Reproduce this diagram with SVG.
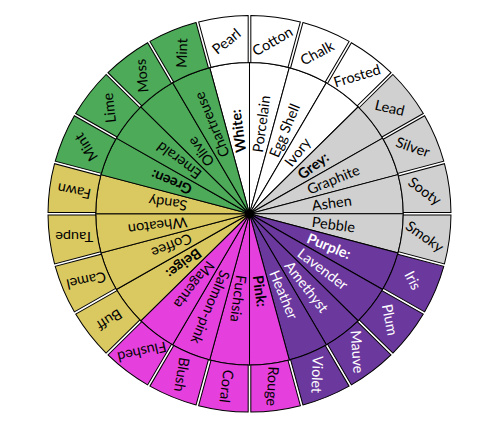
<svg xmlns="http://www.w3.org/2000/svg" width="500" height="429" viewBox="0 0 500 429">
<style>
.t{font-family:Lato,"Liberation Sans",sans-serif;font-size:14.3px;fill:#000}
.o{text-anchor:middle}
.b{font-weight:bold}
.w{fill:#fff}
.s{stroke:#000;stroke-width:1}
.wh{fill:#ffffff}.gy{fill:#d0d0d0}.pu{fill:#6b389e}.pk{fill:#e540dd}.bg{fill:#dac860}.gn{fill:#4caa58}
</style>
<defs>
<path id="iw" d="M0,0 L0,-151.3 A151.3 151.3 0 0 1 39.159,-146.145 Z"/>
<path id="ow" d="M1.3,-151.294 L1.3,-198.296 A198.3 198.3 0 0 1 50.067,-191.876 L37.902,-146.476 A151.3 151.3 0 0 0 1.3,-151.294 Z"/>
</defs>
<rect width="500" height="429" fill="#fff"/>
<g transform="translate(249.5,213.8) scale(1.016,1)">
<g id="inner">
<g id="i-white"><use href="#iw" class="wh s" transform="rotate(345)"/><text class="t b" transform="rotate(262.5)" x="62" dy=".35em">White:</text></g>
<g id="i-porcelain"><use href="#iw" class="wh s" transform="rotate(0)"/><text class="t" transform="rotate(-82.5)" x="62" dy=".35em">Porcelain</text></g>
<g id="i-eggshell"><use href="#iw" class="wh s" transform="rotate(15)"/><text class="t" transform="rotate(-67.5)" x="62" dy=".35em">Egg Shell</text></g>
<g id="i-ivory"><use href="#iw" class="wh s" transform="rotate(30)"/><text class="t" transform="rotate(-52.5)" x="62" dy=".35em">Ivory</text></g>
<g id="i-grey"><use href="#iw" class="gy s" transform="rotate(45)"/><text class="t b" transform="rotate(-37.5)" x="62" dy=".35em">Grey:</text></g>
<g id="i-graphite"><use href="#iw" class="gy s" transform="rotate(60)"/><text class="t" transform="rotate(-22.5)" x="62" dy=".35em">Graphite</text></g>
<g id="i-ashen"><use href="#iw" class="gy s" transform="rotate(75)"/><text class="t" transform="rotate(-7.5)" x="62" dy=".35em">Ashen</text></g>
<g id="i-pebble"><use href="#iw" class="gy s" transform="rotate(90)"/><text class="t" transform="rotate(7.5)" x="62" dy=".35em">Pebble</text></g>
<g id="i-purple"><use href="#iw" class="pu s" transform="rotate(105)"/><text class="t b w" transform="rotate(22.5)" x="62" dy=".35em">Purple:</text></g>
<g id="i-lavender"><use href="#iw" class="pu s" transform="rotate(120)"/><text class="t w" transform="rotate(37.5)" x="62" dy=".35em">Lavender</text></g>
<g id="i-amethyst"><use href="#iw" class="pu s" transform="rotate(135)"/><text class="t w" transform="rotate(52.5)" x="62" dy=".35em">Amethyst</text></g>
<g id="i-heather"><use href="#iw" class="pu s" transform="rotate(150)"/><text class="t w" transform="rotate(67.5)" x="62" dy=".35em">Heather</text></g>
<g id="i-pink"><use href="#iw" class="pk s" transform="rotate(165)"/><text class="t b" transform="rotate(82.5)" x="62" dy=".35em">Pink:</text></g>
<g id="i-fuchsia"><use href="#iw" class="pk s" transform="rotate(180)"/><text class="t" transform="rotate(97.5)" x="62" dy=".35em">Fuchsia</text></g>
<g id="i-salmon"><use href="#iw" class="pk s" transform="rotate(195)"/><text class="t" transform="rotate(112.5)" x="62" dy=".35em">Salmon-pink</text></g>
<g id="i-magenta"><use href="#iw" class="pk s" transform="rotate(210)"/><text class="t" transform="rotate(127.5)" x="62" dy=".35em">Magenta</text></g>
<g id="i-beige"><use href="#iw" class="bg s" transform="rotate(225)"/><text class="t b" transform="rotate(142.5)" x="62" dy=".35em">Beige:</text></g>
<g id="i-coffee"><use href="#iw" class="bg s" transform="rotate(240)"/><text class="t" transform="rotate(157.5)" x="62" dy=".35em">Coffee</text></g>
<g id="i-wheaton"><use href="#iw" class="bg s" transform="rotate(255)"/><text class="t" transform="rotate(172.5)" x="62" dy=".35em">Wheaton</text></g>
<g id="i-sandy"><use href="#iw" class="bg s" transform="rotate(270)"/><text class="t" transform="rotate(187.5)" x="62" dy=".35em">Sandy</text></g>
<g id="i-green"><use href="#iw" class="gn s" transform="rotate(285)"/><text class="t b" transform="rotate(202.5)" x="62" dy=".35em">Green:</text></g>
<g id="i-emerald"><use href="#iw" class="gn s" transform="rotate(300)"/><text class="t" transform="rotate(217.5)" x="62" dy=".35em">Emerald</text></g>
<g id="i-olive"><use href="#iw" class="gn s" transform="rotate(315)"/><text class="t" transform="rotate(232.5)" x="62" dy=".35em">Olive</text></g>
<g id="i-chartreuse"><use href="#iw" class="gn s" transform="rotate(330)"/><text class="t" transform="rotate(247.5)" x="62" dy=".35em">Chartreuse</text></g>
</g>
<g id="outer">
<g id="o-pearl"><use href="#ow" class="wh s" transform="rotate(345)"/><text class="t o" transform="rotate(352.5) translate(0,-174) rotate(-31.5)" dy=".35em">Pearl</text></g>
<g id="o-cotton"><use href="#ow" class="wh s" transform="rotate(0)"/><text class="t o" transform="rotate(7.5) translate(0,-174) rotate(-37.5)" dy=".35em">Cotton</text></g>
<g id="o-chalk"><use href="#ow" class="wh s" transform="rotate(15)"/><text class="t o" transform="rotate(22.5) translate(0,-174) rotate(-50.5)" dy=".35em">Chalk</text></g>
<g id="o-frosted"><use href="#ow" class="wh s" transform="rotate(30)"/><text class="t o" transform="rotate(37.5) translate(0,-174) rotate(-54.5)" dy=".35em">Frosted</text></g>
<g id="o-lead"><use href="#ow" class="gy s" transform="rotate(45)"/><text class="t o" transform="rotate(52.5) translate(0,-174) rotate(-39.5)" dy=".35em">Lead</text></g>
<g id="o-silver"><use href="#ow" class="gy s" transform="rotate(60)"/><text class="t o" transform="rotate(67.5) translate(0,-174) rotate(-48.5)" dy=".35em">Silver</text></g>
<g id="o-sooty"><use href="#ow" class="gy s" transform="rotate(75)"/><text class="t o" transform="rotate(82.5) translate(0,-174) rotate(-45.5)" dy=".35em">Sooty</text></g>
<g id="o-smoky"><use href="#ow" class="gy s" transform="rotate(90)"/><text class="t o" transform="rotate(97.5) translate(0,-174) rotate(-61.5)" dy=".35em">Smoky</text></g>
<g id="o-iris"><use href="#ow" class="pu s" transform="rotate(105)"/><text class="t o w" transform="rotate(112.5) translate(0,-174) rotate(-49.5)" dy=".35em">Iris</text></g>
<g id="o-plum"><use href="#ow" class="pu s" transform="rotate(120)"/><text class="t o w" transform="rotate(127.5) translate(0,-174) rotate(-48.5)" dy=".35em">Plum</text></g>
<g id="o-mauve"><use href="#ow" class="pu s" transform="rotate(135)"/><text class="t o w" transform="rotate(142.5) translate(0,-174) rotate(-56.5)" dy=".35em">Mauve</text></g>
<g id="o-violet"><use href="#ow" class="pu s" transform="rotate(150)"/><text class="t o w" transform="rotate(157.5) translate(0,-174) rotate(-65.5)" dy=".35em">Violet</text></g>
<g id="o-rouge"><use href="#ow" class="pk s" transform="rotate(165)"/><text class="t o" transform="rotate(172.5) translate(0,-174) rotate(-79.5)" dy=".35em">Rouge</text></g>
<g id="o-coral"><use href="#ow" class="pk s" transform="rotate(180)"/><text class="t o" transform="rotate(187.5) translate(0,-174) rotate(-90.5)" dy=".35em">Coral</text></g>
<g id="o-blush"><use href="#ow" class="pk s" transform="rotate(195)"/><text class="t o" transform="rotate(202.5) translate(0,-174) rotate(-103.5)" dy=".35em">Blush</text></g>
<g id="o-flushed"><use href="#ow" class="pk s" transform="rotate(210)"/><text class="t o" transform="rotate(217.5) translate(0,-174) rotate(-50.5)" dy=".35em">Flushed</text></g>
<g id="o-buff"><use href="#ow" class="bg s" transform="rotate(225)"/><text class="t o" transform="rotate(232.5) translate(0,-174) rotate(-84.5)" dy=".35em">Buff</text></g>
<g id="o-camel"><use href="#ow" class="bg s" transform="rotate(240)"/><text class="t o" transform="rotate(247.5) translate(0,-174) rotate(-79.5)" dy=".35em">Camel</text></g>
<g id="o-taupe"><use href="#ow" class="bg s" transform="rotate(255)"/><text class="t o" transform="rotate(262.5) translate(0,-174) rotate(-82.5)" dy=".35em">Taupe</text></g>
<g id="o-fawn"><use href="#ow" class="bg s" transform="rotate(270)"/><text class="t o" transform="rotate(277.5) translate(0,-174) rotate(-86.5)" dy=".35em">Fawn</text></g>
<g id="o-mint1"><use href="#ow" class="gn s" transform="rotate(285)"/><text class="t o" transform="rotate(292.5) translate(0,-174) rotate(-55.5)" dy=".35em">Mint</text></g>
<g id="o-lime"><use href="#ow" class="gn s" transform="rotate(300)"/><text class="t o" transform="rotate(307.5) translate(0,-174) rotate(-43.5)" dy=".35em">Lime</text></g>
<g id="o-moss"><use href="#ow" class="gn s" transform="rotate(315)"/><text class="t o" transform="rotate(322.5) translate(0,-174) rotate(-57.5)" dy=".35em">Moss</text></g>
<g id="o-mint2"><use href="#ow" class="gn s" transform="rotate(330)"/><text class="t o" transform="rotate(337.5) translate(0,-174) rotate(-65.5)" dy=".35em">Mint</text></g>
</g>
<circle id="hub" r="4" fill="#000"/>
</g>
</svg>
